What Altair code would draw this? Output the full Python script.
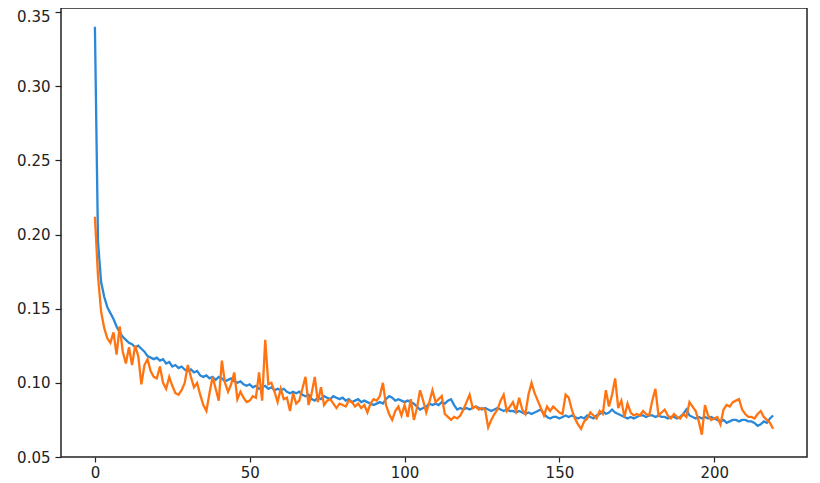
import altair as alt
import pandas as pd

train_loss = [
    0.340, 0.195, 0.168, 0.158, 0.151, 0.147, 0.143, 0.138, 0.134, 0.131,
    0.129, 0.127, 0.126, 0.124, 0.125, 0.123, 0.121, 0.118, 0.117, 0.116,
    0.117, 0.115, 0.116, 0.113, 0.114, 0.111, 0.112, 0.110, 0.111, 0.109,
    0.108, 0.109, 0.107, 0.108, 0.105, 0.104, 0.105, 0.103, 0.104, 0.102,
    0.104, 0.103, 0.101, 0.102, 0.103, 0.101, 0.100, 0.101, 0.099, 0.098,
    0.099, 0.097, 0.098, 0.096, 0.097, 0.098, 0.096, 0.097, 0.095, 0.096,
    0.095, 0.096, 0.094, 0.093, 0.094, 0.093, 0.094, 0.092, 0.091, 0.092,
    0.089, 0.088, 0.090, 0.089, 0.091, 0.090, 0.089, 0.091, 0.090, 0.089,
    0.090, 0.088, 0.089, 0.087, 0.088, 0.089, 0.087, 0.088, 0.087, 0.086,
    0.085, 0.086, 0.087, 0.086, 0.089, 0.091, 0.090, 0.088, 0.089, 0.088,
    0.087, 0.088, 0.087, 0.086, 0.084, 0.082, 0.083, 0.084, 0.086, 0.085,
    0.086, 0.085, 0.087, 0.086, 0.088, 0.089, 0.085, 0.082, 0.083, 0.082,
    0.083, 0.082, 0.083, 0.084, 0.083, 0.082, 0.083, 0.082, 0.081, 0.082,
    0.083, 0.082, 0.081, 0.082, 0.081, 0.081, 0.080, 0.081, 0.080, 0.079,
    0.080, 0.079, 0.080, 0.081, 0.082, 0.079, 0.077, 0.076, 0.077, 0.077,
    0.076, 0.077, 0.078, 0.077, 0.078, 0.077, 0.076, 0.077, 0.076, 0.078,
    0.077, 0.076, 0.078, 0.079, 0.081, 0.079, 0.080, 0.082, 0.080, 0.079,
    0.078, 0.077, 0.076, 0.077, 0.076, 0.077, 0.078, 0.078, 0.077, 0.078,
    0.078, 0.077, 0.078, 0.077, 0.077, 0.076, 0.077, 0.077, 0.076, 0.077,
    0.079, 0.082, 0.078, 0.077, 0.076, 0.077, 0.076, 0.077, 0.076, 0.077,
    0.076, 0.075, 0.074, 0.075, 0.073, 0.074, 0.075, 0.075, 0.074, 0.075,
    0.075, 0.074, 0.074, 0.073, 0.071, 0.072, 0.074, 0.073, 0.076, 0.078,
]

val_loss = [
    0.212, 0.172, 0.148, 0.137, 0.130, 0.127, 0.134, 0.119, 0.138, 0.121,
    0.113, 0.124, 0.112, 0.125, 0.118, 0.099, 0.112, 0.116, 0.108, 0.104,
    0.103, 0.111, 0.100, 0.096, 0.104, 0.098, 0.093, 0.092, 0.095, 0.100,
    0.112, 0.104, 0.097, 0.100, 0.092, 0.085, 0.081, 0.093, 0.104, 0.096,
    0.088, 0.115, 0.100, 0.094, 0.099, 0.107, 0.089, 0.094, 0.090, 0.087,
    0.088, 0.091, 0.090, 0.107, 0.088, 0.129, 0.099, 0.100, 0.094, 0.087,
    0.096, 0.089, 0.090, 0.081, 0.093, 0.086, 0.088, 0.096, 0.104, 0.085,
    0.093, 0.104, 0.087, 0.097, 0.085, 0.088, 0.089, 0.086, 0.083, 0.086,
    0.085, 0.084, 0.088, 0.087, 0.084, 0.086, 0.083, 0.085, 0.080, 0.086,
    0.089, 0.088, 0.091, 0.100, 0.085, 0.079, 0.075, 0.081, 0.084, 0.078,
    0.085, 0.077, 0.089, 0.075, 0.083, 0.095, 0.088, 0.080, 0.087, 0.095,
    0.087, 0.089, 0.091, 0.079, 0.077, 0.075, 0.077, 0.076, 0.078, 0.082,
    0.087, 0.092, 0.083, 0.084, 0.082, 0.083, 0.082, 0.070, 0.075, 0.079,
    0.082, 0.088, 0.092, 0.081, 0.084, 0.087, 0.081, 0.090, 0.082, 0.079,
    0.092, 0.100, 0.093, 0.088, 0.083, 0.078, 0.084, 0.081, 0.084, 0.082,
    0.080, 0.079, 0.092, 0.090, 0.082, 0.076, 0.072, 0.069, 0.074, 0.076,
    0.080, 0.078, 0.076, 0.081, 0.079, 0.095, 0.084, 0.092, 0.103, 0.083,
    0.088, 0.077, 0.086, 0.080, 0.078, 0.079, 0.078, 0.081, 0.079, 0.078,
    0.088, 0.096, 0.078, 0.080, 0.082, 0.078, 0.076, 0.079, 0.077, 0.076,
    0.079, 0.077, 0.087, 0.084, 0.081, 0.074, 0.065, 0.085, 0.078, 0.075,
    0.076, 0.077, 0.072, 0.082, 0.085, 0.084, 0.087, 0.088, 0.089, 0.082,
    0.079, 0.077, 0.077, 0.076, 0.079, 0.081, 0.077, 0.075, 0.073, 0.069,
]

series_names = ["train", "val"]
series_colors = ["#2a88d8", "#ff7410"]
x_ticks = [0, 50, 100, 150, 200]
y_ticks = [0.05, 0.10, 0.15, 0.20, 0.25, 0.30, 0.35]

rows = []
for name, vals in zip(series_names, [train_loss, val_loss]):
    for i, v in enumerate(vals):
        rows.append({"epoch": i, "loss": v, "series": name})
df = pd.DataFrame(rows)

n = len(train_loss) - 1
xpad = n * 0.05

chart = alt.Chart(df).mark_line(strokeWidth=2.3, clip=True).encode(
    x=alt.X("epoch:Q",
            scale=alt.Scale(domain=[-xpad, n + xpad], nice=False, zero=False),
            axis=alt.Axis(values=x_ticks, title=None, grid=False, format="d",
                          tickSize=5, labelPadding=3, domain=False)),
    y=alt.Y("loss:Q",
            scale=alt.Scale(domain=[0.05, 0.3527], nice=False, zero=False),
            axis=alt.Axis(values=y_ticks, title=None, grid=False, format=".2f",
                          tickSize=6, labelPadding=5, domain=False,
                          labelOffset={"condition": {"test": "datum.value > 0.34", "value": 4},
                                       "value": 0})),
    color=alt.Color("series:N",
                    scale=alt.Scale(domain=series_names, range=series_colors),
                    legend=None),
    order=alt.Order("series:N"),
).properties(
    width=746,
    height=449,
    autosize=alt.AutoSizeParams(type="none"),
    padding={"left": 53, "top": 0, "right": 5, "bottom": 26},
).configure_view(
    stroke="#222222", strokeWidth=1.5
).configure_axis(
    labelFont="DejaVu Sans", labelFontSize=15, labelColor="#222222",
    tickColor="#222222", tickWidth=1.2
)

chart.save("out.html", embed_options={"renderer": "svg", "actions": False})
